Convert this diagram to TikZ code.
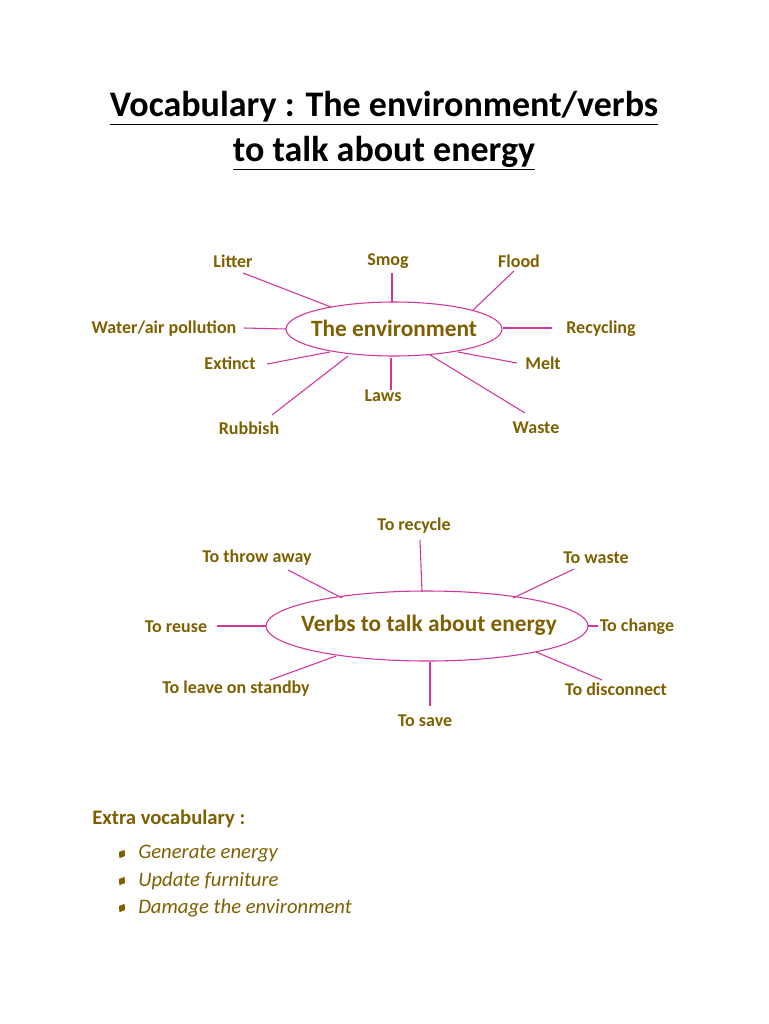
\documentclass[tikz,border=0pt]{standalone}
\usepackage{fontspec}
\setmainfont{Carlito}
\definecolor{txt}{HTML}{7F6000}
\definecolor{ln}{HTML}{D0379C}
\newcommand{\myul}[1]{\underline{#1}}
\begin{document}
\begin{tikzpicture}[x=0.75pt,y=-0.75pt,
  lab/.style={text=txt,font=\fontsize{13.5}{15}\selectfont\bfseries,inner sep=0pt},
  con/.style={draw=ln,line width=0.8pt},
  it/.style={text=txt,font=\fontsize{15.5}{17}\selectfont\itshape,anchor=west,inner sep=0pt},
  bul/.style={fill=txt,minimum size=4.5pt,inner sep=0pt,rotate=20,xslant=0.3}]
\useasboundingbox[fill=white] (0,0) rectangle (768,1024);
\node[font=\fontsize{27}{30}\selectfont\bfseries] (t1) at (384,108) {\myul{Vocabulary : The environment/verbs}};
\node[font=\fontsize{27}{30}\selectfont\bfseries] (t2) at (384,153) {\myul{to talk about energy}};
% environment
\draw[ln,line width=0.8pt] (394,329) ellipse [x radius=108, y radius=27];
\node[text=txt,font=\fontsize{17.5}{19}\selectfont\bfseries] (env) at (394,328) {The environment};
\node[lab] (litter) at (233,261) {Litter};
\node[lab] (smog) at (388,261) {Smog};
\node[lab] (flood) at (519,261) {Flood};
\node[lab] (water) at (164,329) {Water/air pollution};
\node[lab] (recyc) at (601,329) {Recycling};
\node[lab] (ext) at (230,363) {Extinct};
\node[lab] (melt) at (543,363) {Melt};
\node[lab] (laws) at (383,396) {Laws};
\node[lab] (rub) at (249,428) {Rubbish};
\node[lab] (wastee) at (536,428) {Waste};
\draw[con] (243,273) -- (331,307);
\draw[con] (392,273) -- (392,302);
\draw[con] (514,271) -- (473,310);
\draw[con] (244,328) -- (286,329);
\draw[con] (503,328) -- (552,328);
\draw[con] (267,364) -- (330,352);
\draw[con] (458,352) -- (517,363);
\draw[con] (391,358) -- (391,390);
\draw[con] (272,415) -- (348,356);
\draw[con] (525,413) -- (430,355);
% verbs
\draw[ln,line width=0.8pt] (427,626) ellipse [x radius=161, y radius=35];
\node[text=txt,font=\fontsize{17.5}{19}\selectfont\bfseries] (verbs) at (429,625) {Verbs to talk about energy};
\node[lab] (v1) at (414,526) {To recycle};
\node[lab] (v2) at (257,558) {To throw away};
\node[lab] (v3) at (596,558) {To waste};
\node[lab] (v4) at (176,627) {To reuse};
\node[lab] (v5) at (637,627) {To change};
\node[lab] (v6) at (236,689) {To leave on standby};
\node[lab] (v7) at (616,689) {To disconnect};
\node[lab] (v8) at (425,721) {To save};
\draw[con] (420,540) -- (422,592);
\draw[con] (288,570) -- (342,598);
\draw[con] (574,569) -- (513,598);
\draw[con] (217,626) -- (266,626);
\draw[con] (588,626) -- (598,626);
\draw[con] (270,680) -- (336,656);
\draw[con] (602,680) -- (536,652);
\draw[con] (430,662) -- (430,706);
% extra
\node[text=txt,font=\fontsize{15.5}{17}\selectfont\bfseries,anchor=west,inner sep=0pt] (extra) at (92,819) {Extra vocabulary :};
\node[bul] (b1) at (122,854) {};
\node[bul] (b2) at (122,881) {};
\node[bul] (b3) at (122,908) {};
\node[it] (e1) at (138,854) {Generate energy};
\node[it] (e2) at (138,881) {Update furniture};
\node[it] (e3) at (138,908) {Damage the environment};
\end{tikzpicture}
\end{document}
